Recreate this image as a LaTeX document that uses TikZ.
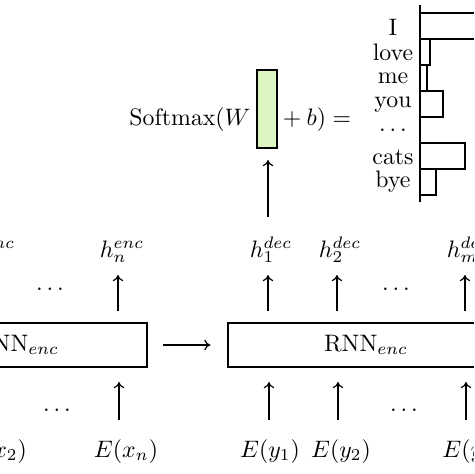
\documentclass[tikz,border=0pt]{standalone}
\usetikzlibrary{arrows.meta}
\definecolor{vecgreen}{RGB}{221,245,193}
\begin{document}
\begin{tikzpicture}[x=0.42pt,y=-0.42pt,
  arr/.style={-{To[length=2.6pt,width=4.4pt]}, line width=0.5pt},
  rnnbox/.style={draw, line width=0.55pt, minimum height=18.5pt, inner sep=0pt},
  lbl/.style={inner sep=0pt, anchor=base},
  word/.style={inner sep=0pt, anchor=base},
  bar/.style={draw, line width=0.5pt}]
\useasboundingbox (0,0) rectangle (474,474);
\clip (0,0) rectangle (474,474);

% RNN boxes
\node[rnnbox, minimum width=109.2pt] (lbox) at (17,345) {RNN$_{enc}$};
\node[rnnbox, minimum width=115.9pt] (rbox) at (366,345) {RNN$_{enc}$};
\draw[arr, shorten <=6.3pt, shorten >=7.1pt] (lbox.east) -- (rbox.west);

% top labels
\node[lbl] (he2) at (-7,257) {$h_2^{enc}$};
\node[lbl] (hen) at (122,257) {$h_n^{enc}$};
\node[lbl] (hd1) at (271,257) {$h_1^{dec}$};
\node[lbl] (hd2) at (340,257) {$h_2^{dec}$};
\node[lbl] (hdm) at (468,257) {$h_m^{dec}$};
\node[lbl] (tdl) at (50,290.5) {$\dots$};
\node[lbl] (tdr) at (396,290.5) {$\dots$};

% bottom labels
\node[lbl] (ex2) at (-4,457) {$E(x_2)$};
\node[lbl] (exn) at (126,457) {$E(x_n)$};
\node[lbl] (ey1) at (270,457) {$E(y_1)$};
\node[lbl] (ey2) at (341,457) {$E(y_2)$};
\node[lbl] (eym) at (476,457) {$E(y_m)$};
\node[lbl] (bdl) at (57,411.5) {$\dots$};
\node[lbl] (bdr) at (404,411.5) {$\dots$};

% arrow end points
\foreach \n/\x in {hen/118, hd1/268, hd2/337, hdm/465}{
  \coordinate (\n-b) at (\x,311);
  \coordinate (\n-t) at (\x,275);
  \draw[arr] (\n-b) -- (\n-t);
}
\foreach \n/\x in {exn/119, ey1/269, ey2/338, eym/466}{
  \coordinate (\n-b) at (\x,420);
  \coordinate (\n-t) at (\x,382);
  \draw[arr] (\n-b) -- (\n-t);
}

% softmax
\node[draw, fill=vecgreen, line width=0.55pt, minimum width=8.4pt, minimum height=32.8pt, inner sep=0pt] (vec) at (267,109) {};
\coordinate (sm-b) at (268,217);
\coordinate (sm-t) at (268,160);
\draw[arr] (sm-b) -- (sm-t);
\node[lbl] (smx) at (190,125) {$\mathrm{Softmax}(W$};
\node[inner sep=0pt, anchor=base west] (plb) at (277,125) {${}+b) =$};

% histogram
\draw[line width=0.6pt] (420,5) -- (420,202);
\draw[bar] (420,13) rectangle (500,39);
\draw[bar] (420,39) rectangle (430,65);
\draw[bar] (420,65) rectangle (427,91);
\draw[bar] (420,91) rectangle (443,117);
\draw[bar] (420,143) rectangle (465,169);
\draw[bar] (420,169) rectangle (436,195);
\node[word] (wI) at (393,35) {I};
\node[word] (wlove) at (393,60) {love};
\node[word] (wme) at (393,83) {me};
\node[word] (wyou) at (393,107) {you};
\node[word] (wdots) at (393,131.5) {$\ldots$};
\node[word] (wcats) at (393,164) {cats};
\node[word] (wbye) at (393,187) {bye};
\end{tikzpicture}
\end{document}
